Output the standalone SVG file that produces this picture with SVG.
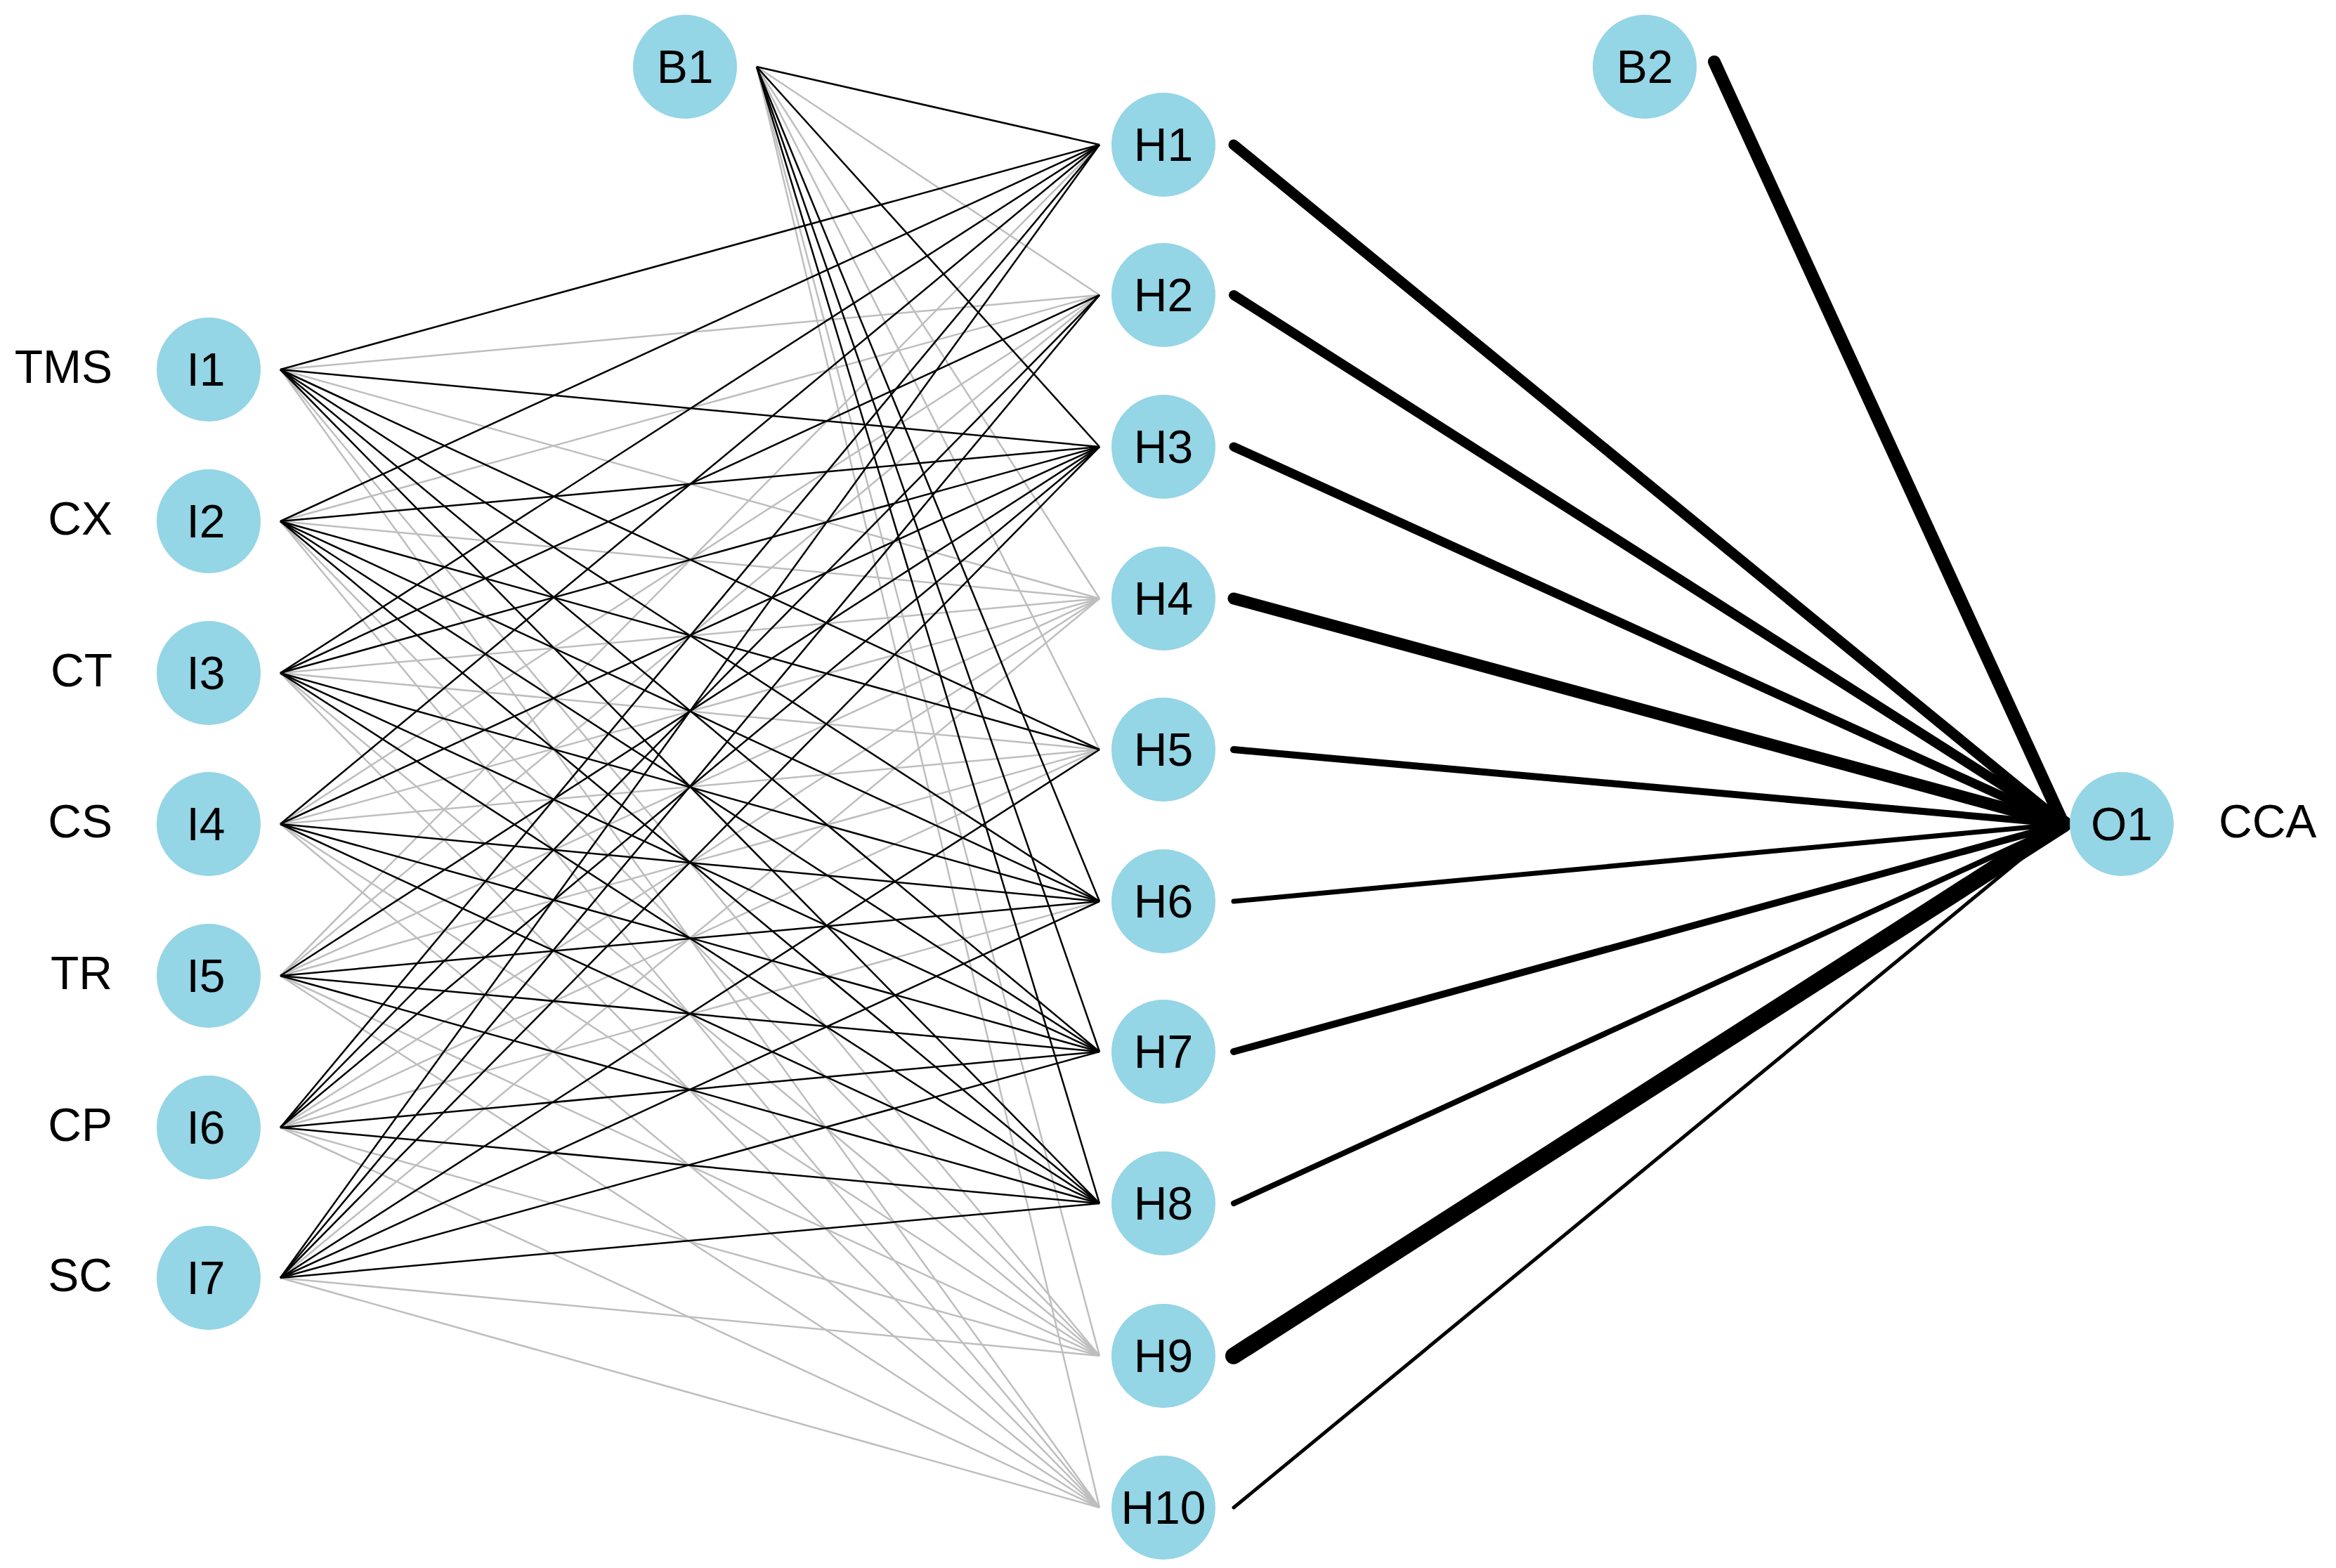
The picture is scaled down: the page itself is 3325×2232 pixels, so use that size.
<svg xmlns="http://www.w3.org/2000/svg" width="3325" height="2232" viewBox="0 0 3325 2232">
<style>
.b{stroke:#000;stroke-width:2.5}
.g{stroke:#bebebe;stroke-width:2.5}
.o{stroke:#000;stroke-linecap:round}
circle{fill:#94d5e6}
text{font-family:"Liberation Sans",Arial,sans-serif;font-size:66px;fill:#000}
.c{text-anchor:middle;dominant-baseline:central}
.r{text-anchor:end;dominant-baseline:central}
.l{dominant-baseline:central}
</style>
<rect width="3325" height="2232" fill="#fff"/>
<g id="connectors">
<!-- gray first -->
<g class="g">
<line x1="399" y1="526" x2="1565" y2="420"/><line x1="399" y1="742" x2="1565" y2="420"/><line x1="399" y1="1173" x2="1565" y2="420"/><line x1="399" y1="1389" x2="1565" y2="420"/><line x1="1077" y1="95" x2="1565" y2="420"/>
<line x1="399" y1="1389" x2="1565" y2="206"/>
<line x1="399" y1="526" x2="1565" y2="852"/><line x1="399" y1="742" x2="1565" y2="852"/><line x1="399" y1="958" x2="1565" y2="852"/><line x1="399" y1="1173" x2="1565" y2="852"/><line x1="399" y1="1389" x2="1565" y2="852"/><line x1="399" y1="1605" x2="1565" y2="852"/><line x1="399" y1="1819" x2="1565" y2="852"/><line x1="1077" y1="95" x2="1565" y2="852"/>
<line x1="399" y1="958" x2="1565" y2="1067"/><line x1="399" y1="1173" x2="1565" y2="1067"/><line x1="399" y1="1389" x2="1565" y2="1067"/><line x1="399" y1="1605" x2="1565" y2="1067"/><line x1="1077" y1="95" x2="1565" y2="1067"/>
<line x1="399" y1="1605" x2="1565" y2="1283"/>
<line x1="399" y1="526" x2="1565" y2="1930"/><line x1="399" y1="742" x2="1565" y2="1930"/><line x1="399" y1="958" x2="1565" y2="1930"/><line x1="399" y1="1173" x2="1565" y2="1930"/><line x1="399" y1="1389" x2="1565" y2="1930"/><line x1="399" y1="1605" x2="1565" y2="1930"/><line x1="399" y1="1819" x2="1565" y2="1930"/><line x1="1077" y1="95" x2="1565" y2="1930"/>
<line x1="399" y1="526" x2="1565" y2="2146"/><line x1="399" y1="742" x2="1565" y2="2146"/><line x1="399" y1="958" x2="1565" y2="2146"/><line x1="399" y1="1173" x2="1565" y2="2146"/><line x1="399" y1="1389" x2="1565" y2="2146"/><line x1="399" y1="1605" x2="1565" y2="2146"/><line x1="399" y1="1819" x2="1565" y2="2146"/><line x1="1077" y1="95" x2="1565" y2="2146"/>
</g>
<g class="b">
<line x1="399" y1="526" x2="1565" y2="206"/><line x1="399" y1="742" x2="1565" y2="206"/><line x1="399" y1="958" x2="1565" y2="206"/><line x1="399" y1="1173" x2="1565" y2="206"/><line x1="399" y1="1605" x2="1565" y2="206"/><line x1="399" y1="1819" x2="1565" y2="206"/><line x1="1077" y1="95" x2="1565" y2="206"/>
<line x1="399" y1="958" x2="1565" y2="420"/><line x1="399" y1="1605" x2="1565" y2="420"/><line x1="399" y1="1819" x2="1565" y2="420"/>
<line x1="399" y1="526" x2="1565" y2="636"/><line x1="399" y1="742" x2="1565" y2="636"/><line x1="399" y1="958" x2="1565" y2="636"/><line x1="399" y1="1173" x2="1565" y2="636"/><line x1="399" y1="1389" x2="1565" y2="636"/><line x1="399" y1="1605" x2="1565" y2="636"/><line x1="399" y1="1819" x2="1565" y2="636"/><line x1="1077" y1="95" x2="1565" y2="636"/>
<line x1="399" y1="526" x2="1565" y2="1067"/><line x1="399" y1="742" x2="1565" y2="1067"/><line x1="399" y1="1819" x2="1565" y2="1067"/>
<line x1="399" y1="526" x2="1565" y2="1283"/><line x1="399" y1="742" x2="1565" y2="1283"/><line x1="399" y1="958" x2="1565" y2="1283"/><line x1="399" y1="1173" x2="1565" y2="1283"/><line x1="399" y1="1389" x2="1565" y2="1283"/><line x1="399" y1="1819" x2="1565" y2="1283"/><line x1="1077" y1="95" x2="1565" y2="1283"/>
<line x1="399" y1="526" x2="1565" y2="1497"/><line x1="399" y1="742" x2="1565" y2="1497"/><line x1="399" y1="958" x2="1565" y2="1497"/><line x1="399" y1="1173" x2="1565" y2="1497"/><line x1="399" y1="1389" x2="1565" y2="1497"/><line x1="399" y1="1605" x2="1565" y2="1497"/><line x1="399" y1="1819" x2="1565" y2="1497"/><line x1="1077" y1="95" x2="1565" y2="1497"/>
<line x1="399" y1="526" x2="1565" y2="1713"/><line x1="399" y1="742" x2="1565" y2="1713"/><line x1="399" y1="958" x2="1565" y2="1713"/><line x1="399" y1="1173" x2="1565" y2="1713"/><line x1="399" y1="1389" x2="1565" y2="1713"/><line x1="399" y1="1605" x2="1565" y2="1713"/><line x1="399" y1="1819" x2="1565" y2="1713"/><line x1="1077" y1="95" x2="1565" y2="1713"/>
</g>
<g class="o">
<line x1="1756" y1="206" x2="2937" y2="1173" stroke-width="15"/>
<line x1="1756" y1="420" x2="2937" y2="1173" stroke-width="14"/>
<line x1="1756" y1="636" x2="2937" y2="1173" stroke-width="13"/>
<line x1="1756" y1="852" x2="2937" y2="1173" stroke-width="17"/>
<line x1="1756" y1="1067" x2="2937" y2="1173" stroke-width="10"/>
<line x1="1756" y1="1283" x2="2937" y2="1173" stroke-width="7"/>
<line x1="1756" y1="1497" x2="2937" y2="1173" stroke-width="10"/>
<line x1="1756" y1="1713" x2="2937" y2="1173" stroke-width="8"/>
<line x1="1756" y1="1930" x2="2937" y2="1173" stroke-width="24"/>
<line x1="1756" y1="2146" x2="2937" y2="1173" stroke-width="5"/>
<line x1="2440" y1="88" x2="2937" y2="1173" stroke-width="18"/>
</g>
</g>
<g id="I1"><circle cx="297" cy="526" r="74"/><text class="c" x="293" y="526">I1</text><text class="r" x="160" y="522">TMS</text></g>
<g id="I2"><circle cx="297" cy="742" r="74"/><text class="c" x="293" y="742">I2</text><text class="r" x="160" y="738">CX</text></g>
<g id="I3"><circle cx="297" cy="958" r="74"/><text class="c" x="293" y="958">I3</text><text class="r" x="160" y="954">CT</text></g>
<g id="I4"><circle cx="297" cy="1173" r="74"/><text class="c" x="293" y="1173">I4</text><text class="r" x="160" y="1169">CS</text></g>
<g id="I5"><circle cx="297" cy="1389" r="74"/><text class="c" x="293" y="1389">I5</text><text class="r" x="160" y="1385">TR</text></g>
<g id="I6"><circle cx="297" cy="1605" r="74"/><text class="c" x="293" y="1605">I6</text><text class="r" x="160" y="1601">CP</text></g>
<g id="I7"><circle cx="297" cy="1819" r="74"/><text class="c" x="293" y="1819">I7</text><text class="r" x="160" y="1815">SC</text></g>
<g id="B1"><circle cx="975" cy="95" r="74"/><text class="c" x="975" y="95">B1</text></g>
<g id="B2"><circle cx="2341" cy="95" r="74"/><text class="c" x="2341" y="95">B2</text></g>
<g id="H1"><circle cx="1656" cy="206" r="74"/><text class="c" x="1656" y="206">H1</text></g>
<g id="H2"><circle cx="1656" cy="420" r="74"/><text class="c" x="1656" y="420">H2</text></g>
<g id="H3"><circle cx="1656" cy="636" r="74"/><text class="c" x="1656" y="636">H3</text></g>
<g id="H4"><circle cx="1656" cy="852" r="74"/><text class="c" x="1656" y="852">H4</text></g>
<g id="H5"><circle cx="1656" cy="1067" r="74"/><text class="c" x="1656" y="1067">H5</text></g>
<g id="H6"><circle cx="1656" cy="1283" r="74"/><text class="c" x="1656" y="1283">H6</text></g>
<g id="H7"><circle cx="1656" cy="1497" r="74"/><text class="c" x="1656" y="1497">H7</text></g>
<g id="H8"><circle cx="1656" cy="1713" r="74"/><text class="c" x="1656" y="1713">H8</text></g>
<g id="H9"><circle cx="1656" cy="1930" r="74"/><text class="c" x="1656" y="1930">H9</text></g>
<g id="H10"><circle cx="1656" cy="2146" r="74"/><text class="c" x="1656" y="2146">H10</text></g>
<g id="O1"><circle cx="3020" cy="1173" r="74"/><text class="c" x="3020" y="1173">O1</text><text class="l" x="3158" y="1169">CCA</text></g>
</svg>
